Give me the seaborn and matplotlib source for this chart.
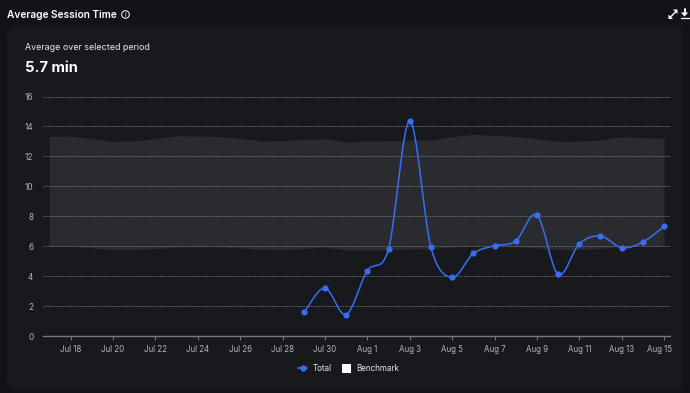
import numpy as np
import pandas as pd
import seaborn as sns
import matplotlib.pyplot as plt
from matplotlib.lines import Line2D
from matplotlib.patches import Circle, FancyBboxPatch, PathPatch, Patch, Polygon
from matplotlib.path import Path
from matplotlib.transforms import ScaledTranslation

# values
days = ['Jul 17', 'Jul 18', 'Jul 19', 'Jul 20', 'Jul 21', 'Jul 22', 'Jul 23', 'Jul 24', 'Jul 25', 'Jul 26',
        'Jul 27', 'Jul 28', 'Jul 29', 'Jul 30', 'Jul 31', 'Aug 1', 'Aug 2', 'Aug 3', 'Aug 4', 'Aug 5',
        'Aug 6', 'Aug 7', 'Aug 8', 'Aug 9', 'Aug 10', 'Aug 11', 'Aug 12', 'Aug 13', 'Aug 14', 'Aug 15']
band_upper = [13.33, 13.36, 13.2, 13.0, 13.03, 13.2, 13.38, 13.36, 13.34, 13.2,
              13.03, 13.07, 13.13, 13.18, 12.95, 13.03, 13.05, 13.1, 13.1, 13.32,
              13.47, 13.4, 13.34, 13.18, 13.0, 13.02, 13.1, 13.32, 13.25, 13.23]
band_lower = [6.0, 6.0, 5.9, 5.78, 5.78, 5.85, 5.95, 5.97, 5.97, 5.9,
              5.8, 5.78, 5.85, 5.95, 5.75, 5.75, 5.78, 5.82, 5.85, 5.95,
              6.02, 6.0, 5.97, 5.9, 5.78, 5.78, 5.85, 6.0, 6.0, 6.0]
total_days = ['Jul 29', 'Jul 30', 'Jul 31', 'Aug 1', 'Aug 2', 'Aug 3', 'Aug 4', 'Aug 5', 'Aug 6',
              'Aug 7', 'Aug 8', 'Aug 9', 'Aug 10', 'Aug 11', 'Aug 12', 'Aug 13', 'Aug 14', 'Aug 15']
total = [1.6, 3.22, 1.45, 4.37, 5.82, 14.35, 5.95, 3.93, 5.53,
         6.04, 6.35, 8.09, 4.13, 6.17, 6.69, 5.91, 6.29, 7.33]
tick_days = ['Jul 18', 'Jul 20', 'Jul 22', 'Jul 24', 'Jul 26', 'Jul 28', 'Jul 30', 'Aug 1', 'Aug 3',
             'Aug 5', 'Aug 7', 'Aug 9', 'Aug 11', 'Aug 13', 'Aug 15']
y_ticks = [0, 2, 4, 6, 8, 10, 12, 14, 16]

W, H = 690, 393
BG = '#111317'
CARD = '#17191d'
BAND = '#2a2b2f'
BLUE = '#3b6cf6'
GRID = '#66676a'

sns.set_theme(style='dark')
plt.rcParams['font.family'] = ['Inter', 'DejaVu Sans']


def fx(px):
    return px / W


def fy(py):
    return 1 - py / H


fig = plt.figure(figsize=(W / 100, H / 100), dpi=100, facecolor=BG)

# pixel space layer for card and icons
bg_ax = fig.add_axes([0, 0, 1, 1], zorder=0)
bg_ax.set_xlim(0, W)
bg_ax.set_ylim(H, 0)
bg_ax.axis('off')
bg_ax.add_patch(FancyBboxPatch((7, 27), 676, 362, boxstyle='round,pad=0,rounding_size=7', fc=CARD, ec='none'))

ax = fig.add_axes([fx(43), fy(336.3), fx(670 - 43), (336.3 - 96.5) / H], zorder=1)
ax.patch.set_alpha(0)

pos = {d: i for i, d in enumerate(days)}
df_total = pd.DataFrame({'day': [pos[d] for d in total_days], 'total': total})

ax.fill_between(range(len(days)), band_lower, band_upper, color=BAND, lw=0, zorder=1)
for v in y_ticks[1:]:
    ax.axhline(v, color=GRID, lw=0.7, ls=(0, (1.5, 1)), zorder=2)

# smooth curve through the points as bezier segments
xs = df_total['day'].to_numpy(dtype=float)
ys = df_total['total'].to_numpy(dtype=float)
slopes = np.gradient(ys, xs)
verts = [(xs[0], ys[0])]
codes = [Path.MOVETO]
for i in range(len(xs) - 1):
    verts += [(xs[i] + 1 / 3, ys[i] + slopes[i] / 3),
              (xs[i + 1] - 1 / 3, ys[i + 1] - slopes[i + 1] / 3),
              (xs[i + 1], ys[i + 1])]
    codes += [Path.CURVE4] * 3
ax.add_patch(PathPatch(Path(verts, codes), fc='none', ec=BLUE, lw=1.1, zorder=3))
sns.scatterplot(data=df_total, x='day', y='total', color=BLUE, s=20, linewidth=0, zorder=4, ax=ax, clip_on=False)

ax.set_xlim((43 - 49.3) / 21.2, (670 - 49.3) / 21.2)
ax.set_ylim(0, 16)
ax.set_xlabel('')
ax.set_ylabel('')
ax.set_xticks([pos[d] for d in tick_days])
ax.set_xticklabels(tick_days)
ax.set_yticks(y_ticks)
ax.grid(False)
ax.tick_params(axis='x', length=3, width=0.7, color='#77787b', labelcolor='#b4b5b7', labelsize=5.7, pad=3, bottom=True)
ax.tick_params(axis='y', length=0, labelcolor='#b4b5b7', labelsize=5.9, pad=7)

# last label sits left of its tick so it stays inside the axis
last = ax.get_xticklabels()[-1]
last.set_transform(last.get_transform() + ScaledTranslation(-4.5 / 100, 0, fig.dpi_scale_trans))

for s in ['top', 'right', 'left']:
    ax.spines[s].set_visible(False)
ax.spines['bottom'].set_color('#77787b')
ax.spines['bottom'].set_linewidth(1)

# header texts
fig.text(fx(7), fy(14.5), 'Average Session Time', color='white', fontsize=7.3, fontweight='semibold', va='center')
fig.text(fx(25), fy(47), 'Average over selected period', color='#e8e8e9', fontsize=6.4, va='center')
fig.text(fx(25), fy(67.5), '5.7 min', color='white', fontsize=10.6, fontweight='bold', va='center')

# info icon
bg_ax.add_patch(Circle((125.5, 14.5), 3.8, fc='none', ec='white', lw=0.7))
bg_ax.text(125.5, 14.7, 'i', color='white', fontsize=4.8, ha='center', va='center')

# expand icon
bg_ax.plot([670.5, 675.5], [17, 12], color='white', lw=1)
bg_ax.add_patch(Polygon([(677.5, 9.5), (677.5, 14), (673, 9.5)], fc='white', ec='none'))
bg_ax.add_patch(Polygon([(668.5, 19), (668.5, 14.5), (673, 19)], fc='white', ec='none'))

# download icon
bg_ax.plot([684.5, 684.5], [9, 13], color='white', lw=1.4)
bg_ax.add_patch(Polygon([(680.8, 12.5), (688.2, 12.5), (684.5, 16.5)], fc='white', ec='none'))
bg_ax.plot([680.5, 688.5], [18.3, 18.3], color='white', lw=0.9)

# legend
handles = [Line2D([0], [0], color=BLUE, lw=1.3, marker='o', ms=4.5, mew=0),
           Patch(fc='white', ec='none')]
fig.legend(handles, ['Total', 'Benchmark'], loc='center', bbox_to_anchor=(fx(349), fy(368.5)), ncol=2,
           frameon=False, fontsize=5.8, labelcolor='#e8e8e9', handlelength=1.05, handleheight=1.3,
           handletextpad=0.75, columnspacing=1.25)

fig.savefig('out.png', dpi=100, facecolor=BG)
